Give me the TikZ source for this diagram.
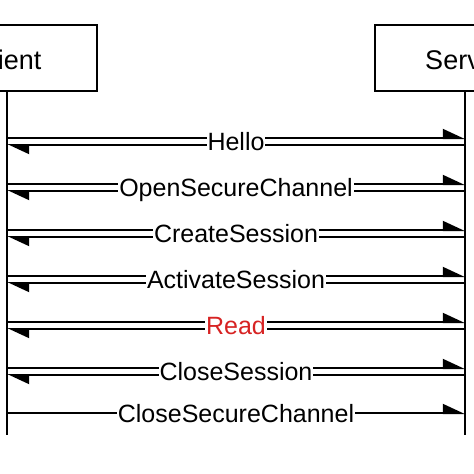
\documentclass[tikz,border=0pt]{standalone}
\usepackage{fontspec}
\setmainfont{Liberation Sans}
\usetikzlibrary{arrows.meta}
\definecolor{readred}{RGB}{215,35,35}
\tikzset{
  actor/.style={draw, line width=2pt, minimum width=180pt, minimum height=66pt, inner sep=0pt, text height=23.3pt, text depth=0pt, font=\fontsize{27}{27}\selectfont},
  life/.style={line width=2pt},
  msg/.style={line width=2pt, -{Triangle[harpoon, length=20pt, width=18pt]}},
  lbl/.style={fill=white, inner sep=1pt, text height=18pt, text depth=0pt, font=\fontsize{25}{25}\selectfont}
}
\begin{document}
\begin{tikzpicture}[x=1pt,y=-1pt]
\useasboundingbox (0,0) rectangle (474,474);
\clip (0,0) rectangle (474,474);
\node[actor] (client) at (7,58) {Client};
\node[actor] (server) at (465,58) {Server};
\coordinate (cend) at (7,435);
\coordinate (send) at (465,435);
\draw[life] (client.south) -- (cend);
\draw[life] (server.south) -- (send);
% message pairs
\foreach \name/\y in {hello/141.5, osc/187.5, cs/233.5, as/279.5, rd/325.5, cls/371.5}{
  \coordinate (\name cr) at (7,\y-3.5);
  \coordinate (\name sr) at (465,\y-3.5);
  \coordinate (\name ss) at (465,\y+3.5);
  \coordinate (\name cs) at (7,\y+3.5);
  \coordinate (\name m) at (236,\y);
  \draw[msg] (\name cr) -- (\name sr);
  \draw[msg] (\name ss) -- (\name cs);
}
\coordinate (csccr) at (7,413);
\coordinate (cscsr) at (465,413);
\draw[msg] (csccr) -- (cscsr);
\node[lbl] (lhello) at (hellom) {Hello};
\node[lbl] (losc) at (oscm) {OpenSecureChannel};
\node[lbl] (lcs) at (csm) {CreateSession};
\node[lbl] (las) at (asm) {ActivateSession};
\node[lbl, text=readred] (lrd) at (rdm) {Read};
\node[lbl] (lcls) at (clsm) {CloseSession};
\node[lbl] (lcsc) at (236,413) {CloseSecureChannel};
\end{tikzpicture}
\end{document}
